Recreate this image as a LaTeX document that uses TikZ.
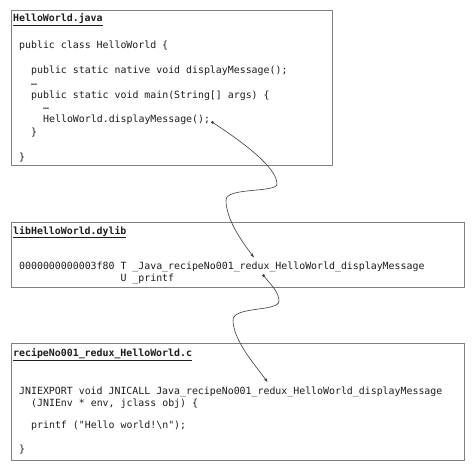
\documentclass[tikz,border=0pt]{standalone}
\usepackage{fontspec}
\setmonofont{DejaVu Sans Mono}
\usetikzlibrary{arrows.meta}
\definecolor{boxgray}{RGB}{128,128,128}
\definecolor{ink}{RGB}{30,30,30}
\definecolor{wire}{RGB}{60,60,60}
\tikzset{
  codebox/.style={draw=boxgray, line width=0.9pt, fill=white, anchor=north west, inner sep=0pt},
  code/.style={anchor=base west, inner sep=0pt, text=ink, font=\ttfamily\fontsize{9.9}{12}\selectfont},
  title/.style={code, font=\ttfamily\bfseries\fontsize{9.9}{12}\selectfont},
  wirestyle/.style={draw=wire, line width=0.6pt, -{Stealth[length=4.5pt,width=3pt]}},
  startdot/.style={circle, fill=wire, inner sep=0pt, minimum size=3pt}
}
\begin{document}
\begin{tikzpicture}[x=1pt,y=-1pt]
\useasboundingbox (0,0) rectangle (474,471);
% boxes
\node[codebox, minimum width=321.5pt, minimum height=155pt] (b1) at (10.5,10) {};
\node[codebox, minimum width=453pt, minimum height=64.5pt] (b2) at (10.5,222.3) {};
\node[codebox, minimum width=453pt, minimum height=117pt] (b3) at (10.5,343.3) {};
% box 1
\node[title] (t1) at (13,21.5) {\underline{HelloWorld.java}};
\node[code] (j1) at (19,48) {public class HelloWorld \{};
\node[code] (j2) at (31,73) {public static native void displayMessage();};
\node[code] (j3) at (31,85) {…};
\node[code] (j4) at (31,98) {public static void main(String[] args) \{};
\node[code] (j5) at (43,109.5) {…};
\node[code] (j6) at (43,122) {HelloWorld.displayMessage();};
\node[code] (j7) at (31,135) {\}};
\node[code] (j8) at (19,160) {\}};
% box 2
\node[title] (t2) at (13,234) {\underline{libHelloWorld.dylib}};
\node[code] (l1) at (19,269) {0000000000003f80 T \_Java\_recipeNo001\_redux\_HelloWorld\_displayMessage};
\node[code] (l2) at (19,281) {\phantom{0000000000003f80 }U \_printf};
% box 3
\node[title] (t3) at (13,356) {\underline{recipeNo001\_redux\_HelloWorld.c}};
\node[code] (c1) at (19,394) {JNIEXPORT void JNICALL Java\_recipeNo001\_redux\_HelloWorld\_displayMessage};
\node[code] (c2) at (31,406) {(JNIEnv * env, jclass obj) \{};
\node[code] (c3) at (31,428) {printf ("Hello world!\textbackslash n");};
\node[code] (c4) at (19,452) {\}};
% connectors
\node[startdot] (d1) at (212.5,122.3) {};
\coordinate (a1) at (254,257.5);
\node[startdot] (d2) at (263.5,275.5) {};
\coordinate (a2) at (267.5,382);
\draw[wirestyle] (d1.center) .. controls (241,141) and (277,167) .. (277,184)
  .. controls (277,193) and (226,187) .. (226,200)
  .. controls (226,220) and (243,243) .. (a1);
\draw[wirestyle] (d2.center) .. controls (271,285) and (279,292) .. (279,301)
  .. controls (279,312) and (233,306) .. (233,320)
  .. controls (233,340) and (255,365) .. (a2);
\end{tikzpicture}
\end{document}
